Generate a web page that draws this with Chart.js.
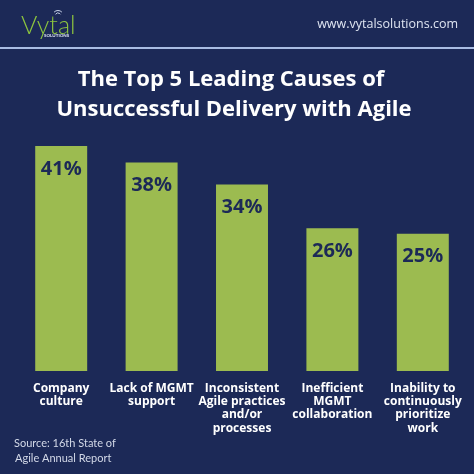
<!DOCTYPE html>
<html>
<head>
<meta charset="utf-8">
<script src="https://cdn.jsdelivr.net/npm/chart.js@4"></script>
<style>
html,body{margin:0;padding:0;background:#1c2957;}
#wrap{width:474px;height:474px;position:relative;}
</style>
</head>
<body>
<div id="wrap"><canvas id="c" width="474" height="474"></canvas></div>
<script>
const categories = [
  ["Company", "culture"],
  ["Lack of MGMT", "support"],
  ["Inconsistent", "Agile practices", "and/or", "processes"],
  ["Inefficient", "MGMT", "collaboration"],
  ["Inability to", "continuously", "prioritize", "work"]
];
const values = [41, 38, 34, 26, 25];
const valueLabels = ["41%", "38%", "34%", "26%", "25%"];
const titleLines = ["The Top 5 Leading Causes of", "Unsuccessful Delivery with Agile"];
const sourceLines = ["Source: 16th State of", "Agile Annual Report"];
const siteUrl = "www.vytalsolutions.com";

const BG = "#1c2957";
const GREEN = "#9cbb50";

const decor = {
  id: "decor",
  beforeDraw(chart) {
    const ctx = chart.ctx;
    ctx.save();
    ctx.fillStyle = BG;
    ctx.fillRect(0, 0, chart.width, chart.height);
    // header line
    ctx.fillStyle = "#a9bce3";
    ctx.fillRect(0, 47, chart.width, 2);
    // logo
    ctx.fillStyle = "#8cc43f";
    ctx.font = "300 25px Lato";
    ctx.textBaseline = "alphabetic";
    ctx.textAlign = "left";
    ctx.fillText("Vytal", 21, 34);
    ctx.strokeStyle = "#c9d3ea";
    ctx.lineWidth = 1;
    ctx.beginPath();
    ctx.arc(58, 16, 3, Math.PI * 1.2, Math.PI * 1.8);
    ctx.stroke();
    ctx.beginPath();
    ctx.arc(58, 16, 5.5, Math.PI * 1.25, Math.PI * 1.75);
    ctx.stroke();
    ctx.fillStyle = "#dfe5f2";
    ctx.font = "bold 4.5px Lato";
    ctx.fillText("SOLUTIONS", 44, 37);
    // url
    ctx.fillStyle = "#dfe5f2";
    ctx.font = "12.5px 'Open Sans'";
    ctx.textAlign = "right";
    ctx.textBaseline = "middle";
    ctx.fillText(siteUrl, 458, 24);
    // title
    ctx.fillStyle = "#ffffff";
    ctx.font = "bold 22px 'Open Sans'";
    ctx.textAlign = "center";
    ctx.fillText(titleLines[0], 231, 80);
    ctx.fillText(titleLines[1], 234, 110);
    // source
    ctx.fillStyle = "#d3d9e8";
    ctx.font = "11px Lato";
    ctx.textAlign = "left";
    ctx.fillText(sourceLines[0], 14, 443);
    ctx.fillText(sourceLines[1], 15, 458);
    ctx.restore();
  },
  afterDatasetsDraw(chart) {
    const ctx = chart.ctx;
    const meta = chart.getDatasetMeta(0);
    ctx.save();
    ctx.fillStyle = BG;
    ctx.font = "bold 20px 'Open Sans'";
    ctx.textAlign = "center";
    ctx.textBaseline = "middle";
    meta.data.forEach((bar, i) => {
      ctx.fillText(valueLabels[i], bar.x, bar.y + 23);
    });
    ctx.restore();
  }
};

new Chart(document.getElementById("c"), {
  type: "bar",
  data: {
    labels: categories,
    datasets: [{
      data: values,
      backgroundColor: GREEN,
      borderWidth: 0,
      barPercentage: 0.575,
      categoryPercentage: 1
    }]
  },
  options: {
    responsive: false,
    animation: false,
    devicePixelRatio: 1,
    layout: { padding: { top: 124, left: 16, right: 6, bottom: 0 } },
    plugins: { legend: { display: false }, tooltip: { enabled: false }, title: { display: false } },
    scales: {
      y: { display: false, min: 0, max: 45 },
      x: {
        grid: { display: false, drawTicks: false },
        border: { display: false },
        ticks: {
          color: "#ffffff",
          font: { family: "'Open Sans'", weight: "bold", size: 12, lineHeight: 1.1 },
          padding: 11,
          maxRotation: 0,
          autoSkip: false
        },
        afterFit(scale) { scale.height = 103; }
      }
    }
  },
  plugins: [decor]
});
</script>
</body>
</html>
